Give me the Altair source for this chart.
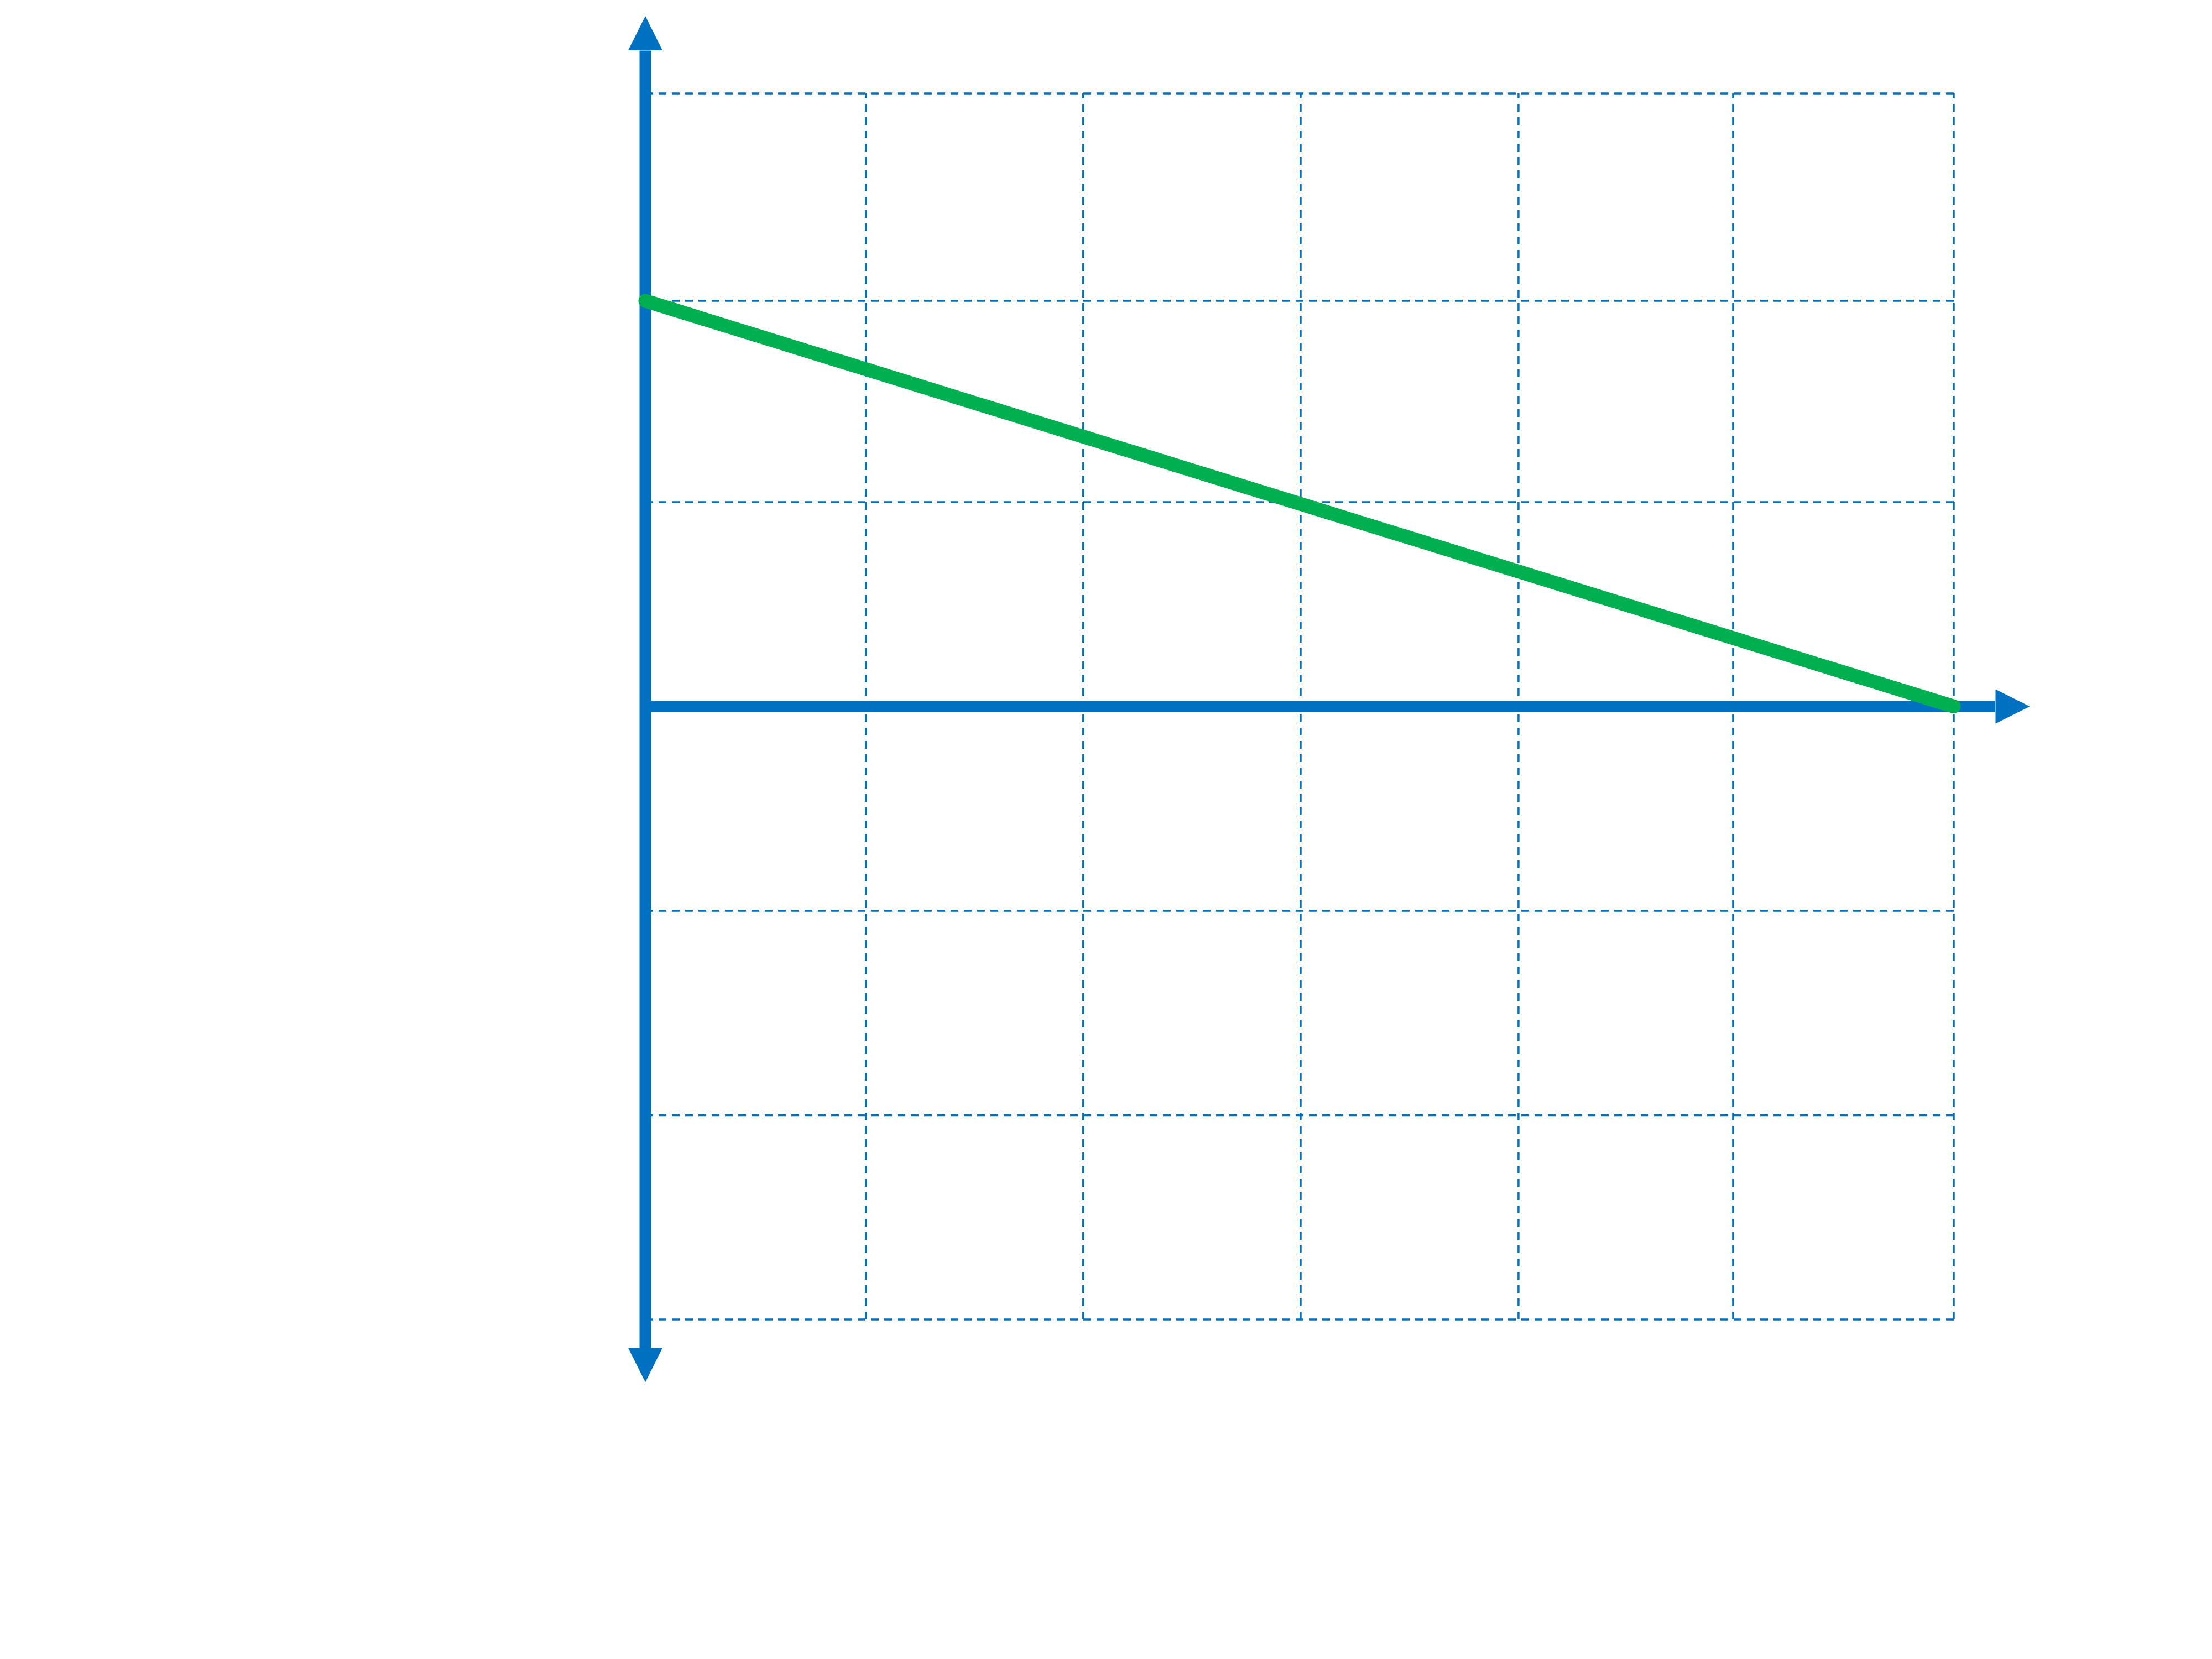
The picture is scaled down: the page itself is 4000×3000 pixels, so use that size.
import altair as alt
import pandas as pd

# ---- data ----
line_x = [0, 6]
line_y = [1.985, 0]

# dashed grid lines, positions as measured on the reference
grid_x = [1.012, 2.008, 3.005, 4.004, 4.988, 6]
grid_y = [-3, -2, -1, 1, 1.985, 3]
x_min, x_max = 0, 6
y_min, y_max = -3, 3

# axis shafts (end at arrow-head bases)
xaxis_end = 6.19
yaxis_top = 3.21
yaxis_bottom = -3.14

# arrow heads (centres)
arrow_names = ["right", "up", "down"]
arrow_x = [6.27, 0, 0]
arrow_y = [0, 3.295, -3.223]
arrow_paths = ["M-1,-1L-1,1L1,0Z", "M-1,1L1,1L0,-1Z", "M-1,-1L1,-1L0,1Z"]

BLUE = "#0070C0"
GREEN = "#00B050"

xs = alt.Scale(domain=[x_min, x_max], nice=False, zero=False)
ys = alt.Scale(domain=[y_min, y_max], nice=False, zero=False)

vgrid_df = pd.DataFrame({"x": grid_x, "y1": [y_min] * len(grid_x), "y2": [y_max] * len(grid_x)})
hgrid_df = pd.DataFrame({"y": grid_y, "x1": [x_min] * len(grid_y), "x2": [x_max] * len(grid_y)})
line_df = pd.DataFrame({"x": line_x, "y": line_y})
xaxis_df = pd.DataFrame({"x1": [0], "x2": [xaxis_end], "y": [0]})
yaxis_df = pd.DataFrame({"x": [0], "y1": [yaxis_bottom], "y2": [yaxis_top]})
arrow_df = pd.DataFrame({"name": arrow_names, "x": arrow_x, "y": arrow_y})

vgrid = alt.Chart(vgrid_df).mark_rule(color=BLUE, strokeWidth=3.5, strokeDash=[14, 10]).encode(
    x=alt.X("x:Q", scale=xs, axis=None),
    y=alt.Y("y1:Q", scale=ys, axis=None),
    y2="y2:Q",
)
hgrid = alt.Chart(hgrid_df).mark_rule(color=BLUE, strokeWidth=3.5, strokeDash=[14, 10]).encode(
    y=alt.Y("y:Q", scale=ys, axis=None),
    x=alt.X("x1:Q", scale=xs, axis=None),
    x2="x2:Q",
)
xaxis = alt.Chart(xaxis_df).mark_rule(color=BLUE, strokeWidth=21, strokeCap="butt").encode(
    x=alt.X("x1:Q", scale=xs, axis=None),
    x2="x2:Q",
    y=alt.Y("y:Q", scale=ys, axis=None),
)
yaxis = alt.Chart(yaxis_df).mark_rule(color=BLUE, strokeWidth=21, strokeCap="butt").encode(
    x=alt.X("x:Q", scale=xs, axis=None),
    y=alt.Y("y1:Q", scale=ys, axis=None),
    y2="y2:Q",
)

arrows = []
for name, path in zip(arrow_names, arrow_paths):
    arrows.append(
        alt.Chart(arrow_df[arrow_df["name"] == name])
        .mark_point(shape=path, size=3844, filled=True, color=BLUE, opacity=1, strokeWidth=0)
        .encode(
            x=alt.X("x:Q", scale=xs, axis=None),
            y=alt.Y("y:Q", scale=ys, axis=None),
        )
    )

green = alt.Chart(line_df).mark_line(color=GREEN, strokeWidth=25, strokeCap="round").encode(
    x=alt.X("x:Q", scale=xs, axis=None),
    y=alt.Y("y:Q", scale=ys, axis=None),
)

chart = alt.layer(vgrid, hgrid, xaxis, yaxis, *arrows, green).properties(
    width=2366,
    height=2217,
    padding={"left": 1159, "top": 161, "right": 459, "bottom": 606},
    autosize=alt.AutoSizeParams(type="none"),
    background="white",
).configure_view(stroke=None)

chart.save("out.html", embed_options={"renderer": "svg", "actions": False})
